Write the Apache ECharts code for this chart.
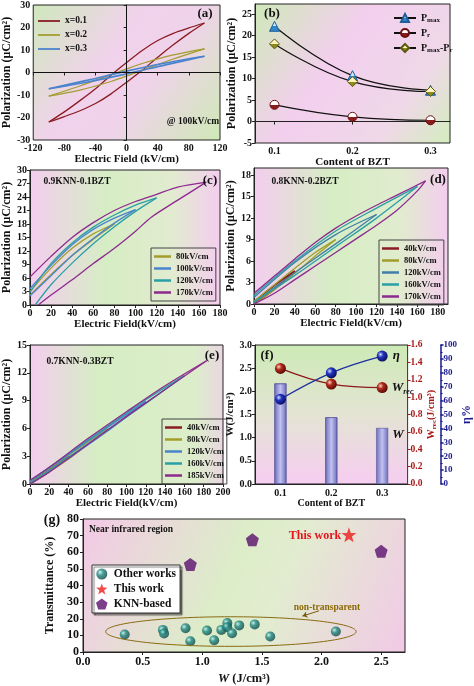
<!DOCTYPE html>
<html lang="en">
<head>
    <meta charset="UTF-8">
    <title>KNN-BZT</title>
    <script src="https://cdn.jsdelivr.net/npm/echarts@6/dist/echarts.min.js"></script>
</head>
<style>
    * { margin: 0; padding: 0; }
    html, body { width: 100%; height: 100%; overflow: hidden; background: #fff; }
    .container { width: 474px; height: 686px; }
</style>
<body>
    <div class="container"></div>
</body>
<script>
    // (a) P-E loops at 100 kV/cm, [E, P], descending then ascending branch
    const a01Down = [[100,22],[80,19.8],[60,17.4],[40,14.2],[20,9.8],[0,4.4],[-20,-1.2],[-40,-7.2],[-60,-12.5],[-80,-17.5],[-100,-22]];
    const a01Up = [[-100,-22],[-80,-19.6],[-60,-17],[-40,-13.8],[-20,-9.5],[0,-4.3],[20,1],[40,6.8],[60,12.3],[80,17.4],[100,22]];
    const a02Down = [[100,10.5],[60,7.8],[20,4],[0,1.6],[-20,-1],[-60,-6],[-100,-10.5]];
    const a02Up = [[-100,-10.5],[-60,-7.8],[-20,-4],[0,-1.6],[20,1],[60,6],[100,10.5]];
    const a03Down = [[100,7.2],[50,4.2],[0,0.6],[-50,-3.4],[-100,-7.2]];
    const a03Up = [[-100,-7.2],[-50,-4.2],[0,-0.6],[50,3.4],[100,7.2]];

    // (b) polarization vs BZT content
    const bztContent = [0.1, 0.2, 0.3];
    const pMax = [22.2, 10.7, 7.3];
    const pR = [3.9, 1.1, 0.3];
    const pMaxMinusPr = [18.1, 9.3, 7.0];

    // (c) 0.9KNN-0.1BZT unipolar loops
    const c80Down = [[80,18],[60,15.8],[40,12.6],[20,8.2],[0,3]];
    const c80Up = [[0,2.2],[20,6.8],[40,11],[60,14.6],[80,18]];
    const c100Down = [[100,21.2],[80,19.3],[60,16.8],[40,13.4],[20,8.8],[0,3.6]];
    const c100Up = [[0,2],[20,6.5],[40,11],[60,14.8],[80,18.2],[100,21.2]];
    const c120Down = [[120,23.8],[100,22.2],[80,20],[60,17.3],[40,13.8],[20,9.2],[0,2.8]];
    const c120Up = [[5,0],[20,4.5],[40,9.3],[60,13.6],[80,17.4],[100,20.8],[120,23.8]];
    const c170Down = [[167,27.3],[140,26.2],[120,24.6],[100,23],[80,21],[60,18.3],[40,15],[20,10.8],[0,6.2]];
    const c170Up = [[8,0],[20,2.2],[40,5.6],[60,9.2],[80,12.6],[100,16.4],[115,19.5],[140,23.3],[167,27.3]];

    // (d) 0.8KNN-0.2BZT
    const d40Down = [[40,4.6],[20,2.6],[0,0.3]];
    const d40Up = [[0,0],[20,2.1],[40,4.6]];
    const d80Down = [[80,9],[60,7.2],[40,5],[20,2.7],[0,0.4]];
    const d80Up = [[0,0],[20,2],[40,4.3],[60,6.7],[80,9]];
    const d120Down = [[120,12.5],[80,9.7],[40,5.8],[0,0.9]];
    const d120Up = [[0,0.2],[40,4.4],[80,8.4],[120,12.5]];
    const d160Down = [[160,16.4],[120,13.4],[80,10.2],[40,6],[0,1.2]];
    const d160Up = [[0,0.3],[40,4],[80,8],[120,12],[160,16.4]];
    const d170Down = [[168,17.2],[140,15.2],[120,13.8],[100,12.3],[80,10.6],[60,8.6],[40,6.3],[20,3.9],[0,1.5]];
    const d170Up = [[0,0],[20,1.5],[40,3.4],[60,5.3],[80,7.2],[100,9.1],[120,11],[140,13.1],[160,15.8],[168,17.2]];

    // (e) 0.7KNN-0.3BZT
    const e40Down = [[40,3],[20,1.6],[0,0.1]];
    const e40Up = [[0,0],[20,1.3],[40,3]];
    const e80Down = [[80,6],[40,3.1],[0,0.2]];
    const e80Up = [[0,0],[40,2.7],[80,6]];
    const e120Down = [[120,8.9],[80,6.1],[40,3.2],[0,0.3]];
    const e120Up = [[0,0],[40,2.8],[80,5.7],[120,8.9]];
    const e160Down = [[160,11.7],[120,9.1],[80,6.2],[40,3.3],[0,0.3]];
    const e160Up = [[0,0],[40,2.9],[80,5.8],[120,8.7],[160,11.7]];
    const e185Down = [[183,13.3],[140,10.6],[100,7.8],[60,4.9],[20,1.8],[0,0.4]];
    const e185Up = [[0,0],[20,1.3],[60,4.3],[100,7.3],[140,10.2],[183,13.3]];

    // (f) energy storage
    const bztLabels = ['0.1', '0.2', '0.3'];
    const wTotal = [2.17, 1.44, 1.21];
    const wRec = [1.33, 1.15, 1.11];
    const eta = [61, 80, 92];

    // (g) transmittance vs W
    const otherWorks = [[0.35,10.5],[0.67,13.3],[0.68,11.1],[0.86,14.3],[0.9,6.5],[1.04,12.9],[1.1,7.1],[1.16,13.3],[1.21,17.4],[1.21,14.9],[1.25,11.3],[1.31,16],[1.44,16.6],[1.57,9.3],[2.12,12.3]];
    const thisWork = [[2.23,70.5]];
    const knnBased = [[0.9,52.7],[1.42,67.5],[2.5,60.6]];
    const ellipseC = [1.24, 12.3], ellipseR = [1.05, 8.9];

    const FONT = 'Liberation Serif';
    const pink = '#f4cdef', green = '#d6edc4';
    let container = document.querySelector('.container');
    let chart = echarts.init(container);

    function lin(x2, y2, stops) {
        return {type: 'linear', x: 0, y: 0, x2, y2, colorStops: stops.map(s => ({offset: s[0], color: s[1]}))};
    }
    function grid(left, top, width, height, bg) {
        return {left, top, width, height, show: true, backgroundColor: bg, borderColor: '#222', borderWidth: 1};
    }
    function vAxis(gi, min, max, interval, o) {
        return Object.assign({
            type: 'value', gridIndex: gi, min, max, interval,
            axisLine: {show: true, lineStyle: {color: '#222'}},
            axisTick: {show: true, length: 3, lineStyle: {color: '#222'}},
            axisLabel: {fontSize: 10, color: '#111', fontWeight: 'bold', fontFamily: FONT, margin: 3},
            splitLine: {show: false},
            nameLocation: 'middle',
            nameTextStyle: {fontSize: 11, color: '#111', fontWeight: 'bold', fontFamily: FONT}
        }, o || {});
    }
    function loop(name, color, down, up, idx, w) {
        return [down, up].map(d => ({
            name, type: 'line', xAxisIndex: idx, yAxisIndex: idx, data: d, smooth: 0.3,
            symbol: 'none', lineStyle: {color, width: w || 1.3}, itemStyle: {color}
        }));
    }
    function twoTone(top, bottom) {
        return lin(0, 1, [[0, top], [0.5, top], [0.5, bottom], [1, bottom]]);
    }
    function sphere(light, mid, dark) {
        return {type: 'radial', x: 0.35, y: 0.35, r: 0.75, colorStops: [
            {offset: 0, color: light}, {offset: 0.35, color: mid}, {offset: 1, color: dark}]};
    }
    function boxLegend(names, left, top) {
        return {
            data: names, orient: 'vertical', left, top, itemGap: 3, itemWidth: 17, itemHeight: 2.5, icon: 'rect',
            padding: [4, 3], borderColor: '#444', borderWidth: 1,
            formatter: n => n.split(':')[1],
            textStyle: {fontSize: 8.5, fontWeight: 'bold', fontFamily: FONT, color: '#111', lineHeight: 8}
        };
    }

    const red = '#8b1c24', olive = '#a39d2e', blue = '#4a84cc', teal = '#2a9fa5', purple = '#8d2a8f', steel = '#3f7fa8';
    const polName = 'Polarization (μC/cm²)';
    const fieldName = 'Electric Field(kV/cm)';

    let series = [].concat(
        loop('x=0.1', red, a01Down, a01Up, 0),
        loop('x=0.2', olive, a02Down, a02Up, 0),
        loop('x=0.3', blue, a03Down, a03Up, 0, 1.6),
        loop('c:80kV/cm', olive, c80Down, c80Up, 2),
        loop('c:100kV/cm', blue, c100Down, c100Up, 2),
        loop('c:120kV/cm', teal, c120Down, c120Up, 2),
        loop('c:170kV/cm', purple, c170Down, c170Up, 2),
        loop('d:40kV/cm', red, d40Down, d40Up, 3, 1.8),
        loop('d:80kV/cm', olive, d80Down, d80Up, 3),
        loop('d:120kV/cm', steel, d120Down, d120Up, 3),
        loop('d:160kV/cm', teal, d160Down, d160Up, 3),
        loop('d:170kV/cm', purple, d170Down, d170Up, 3),
        loop('e:40kV/cm', red, e40Down, e40Up, 4),
        loop('e:80kV/cm', olive, e80Down, e80Up, 4),
        loop('e:120kV/cm', blue, e120Down, e120Up, 4, 1.6),
        loop('e:160kV/cm', teal, e160Down, e160Up, 4),
        loop('e:185kV/cm', purple, e185Down, e185Up, 4)
    );
    // zero lines for (a)
    series[0].markLine = {silent: true, symbol: 'none', label: {show: false},
        lineStyle: {color: '#111', width: 1, type: 'solid'}, data: [{xAxis: 0}, {yAxis: 0}]};

    // (b)
    const bSeries = [
        ['Pmax', pMax, 'triangle', twoTone('#cfe6fb', '#2f86c8'), '#1d5f96', 10],
        ['Pr', pR, 'circle', twoTone('#fff', '#8b1c1c'), '#6b1010', 9],
        ['Pmax-Pr', pMaxMinusPr, 'diamond', twoTone('#fbf4c0', '#8f8a1c'), '#5d5a10', 10]
    ].map(s => ({
        name: s[0], type: 'line', xAxisIndex: 1, yAxisIndex: 1, smooth: 0.45,
        data: bztContent.map((x, i) => [x, s[1][i]]),
        symbol: s[2], symbolSize: s[5], lineStyle: {color: '#111', width: 1.2},
        itemStyle: {color: s[3], borderColor: s[4], borderWidth: 1}
    }));
    series = series.concat(bSeries);

    // (f)
    series.push({
        name: 'W', type: 'bar', xAxisIndex: 5, yAxisIndex: 5, barWidth: 12,
        data: wTotal.map((v, i) => i === 2 ? {value: v, label: {show: true, position: [16, 0],
            formatter: 'W', fontSize: 13, fontStyle: 'italic', fontWeight: 'bold', fontFamily: FONT, color: '#111'}} : v),
        itemStyle: {color: lin(1, 0, [[0, '#6d6dba'], [0.5, '#c2c2f2'], [1, '#6d6dba']]), borderColor: '#55559a', borderWidth: 0.6}
    });
    series.push({
        name: 'Wrec', type: 'line', xAxisIndex: 5, yAxisIndex: 6, smooth: 0.4,
        data: wRec.map((v, i) => i === 2 ? {value: v, label: {show: true, position: 'right', distance: 4,
            formatter: '{w|W}{s|rec}', rich: {w: {fontSize: 13, fontStyle: 'italic', fontWeight: 'bold', fontFamily: FONT, color: '#111'},
            s: {fontSize: 8, fontStyle: 'italic', fontWeight: 'bold', fontFamily: FONT, color: '#111', padding: [8, 0, 0, 0]}}}} : v),
        symbol: 'circle', symbolSize: 11, lineStyle: {color: '#8b1a1a', width: 1.3},
        itemStyle: {color: sphere('#ffd0c0', '#b02a1a', '#4a0505')}
    });
    series.push({
        name: 'eta', type: 'line', xAxisIndex: 5, yAxisIndex: 7, smooth: 0.4,
        data: eta.map((v, i) => i === 2 ? {value: v, label: {show: true, position: 'right', distance: 5,
            formatter: 'η', fontSize: 13, fontStyle: 'italic', fontWeight: 'bold', fontFamily: FONT, color: '#111'}} : v),
        symbol: 'circle', symbolSize: 11, lineStyle: {color: '#1d2fa0', width: 1.3},
        itemStyle: {color: sphere('#d0dcff', '#2233c0', '#06084a')}
    });

    // (g)
    series.push({
        name: 'Other works', type: 'scatter', xAxisIndex: 6, yAxisIndex: 8, data: otherWorks,
        symbol: 'circle', symbolSize: 10, itemStyle: {color: sphere('#c8f0ea', '#1f8a85', '#0a3a38')},
        markLine: {silent: true, symbol: ['none', 'arrow'], symbolSize: 5, label: {show: false},
            lineStyle: {color: '#7a5a10', width: 1, type: 'solid'},
            data: [[{coord: [1.98, 24.8]}, {coord: [1.84, 21.6]}]]}
    });
    series.push({
        name: 'This work', type: 'scatter', xAxisIndex: 6, yAxisIndex: 8, data: thisWork,
        symbol: 'path://M0,-10 L2.35,-3.24 L9.51,-3.09 L3.8,1.24 L5.88,8.09 L0,4 L-5.88,8.09 L-3.8,1.24 L-9.51,-3.09 L-2.35,-3.24 Z',
        symbolSize: 15, itemStyle: {color: '#ee1c1c'}
    });
    series.push({
        name: 'KNN-based', type: 'scatter', xAxisIndex: 6, yAxisIndex: 8, data: knnBased,
        symbol: 'path://M0,-10 L9.51,-3.09 L5.88,8.09 L-5.88,8.09 L-9.51,-3.09 Z',
        symbolSize: 13, itemStyle: {color: '#5a0f6e'}
    });

    let option = {
        animation: false,
        textStyle: {fontFamily: FONT, fontWeight: 'bold'},
        grid: [
            grid(27, 5, 193, 135, lin(1, 1, [[0, '#cfe8bc'], [0.4, '#f1d2ec'], [0.6, '#efd3ea'], [1, '#cfe9b6']])),
            grid(255, 4, 195, 139, lin(1, 1, [[0, '#cfe9b9'], [0.4, '#f3cfee'], [0.75, '#efd8e8'], [1, '#d3edbd']])),
            grid(27, 170, 193, 135, lin(1, 0, [[0, pink], [0.4, green], [0.75, '#e2ebd0'], [1, pink]])),
            grid(254, 168, 194, 136, lin(1, 0, [[0, pink], [0.4, green], [0.75, '#e0ecce'], [1, pink]])),
            grid(30, 345, 193, 139, lin(1, 0, [[0, pink], [0.35, green], [0.85, '#dcedca'], [1, '#ead7e2']])),
            grid(255, 345, 164, 139, lin(0, 1, [[0, '#cdeab5'], [0.5, '#e4e4d4'], [1, '#f6cdf1']])),
            grid(83, 519, 322, 135, lin(1, 1, [[0, '#f3c9e6'], [0.45, '#dcedc8'], [0.6, '#e2ecd0'], [1, '#f2c9e6']]))
        ],
        xAxis: [
            vAxis(0, -120, 120, 40, {name: 'Electric Field (kV/cm)', nameGap: 12}),
            vAxis(1, 0.075, 0.325, 0.1, {name: 'Content of BZT', nameGap: 11,
                axisLabel: {customValues: bztContent, fontSize: 10, color: '#111', fontWeight: 'bold', fontFamily: FONT, margin: 3},
                axisTick: {customValues: bztContent, length: 3}}),
            vAxis(2, 0, 180, 20, {name: fieldName, nameGap: 12}),
            vAxis(3, 0, 190, 20, {name: fieldName, nameGap: 12,
                axisLabel: {customValues: [0,20,40,60,80,100,120,140,160,180], fontSize: 10, color: '#111', fontWeight: 'bold', fontFamily: FONT, margin: 3},
                axisTick: {customValues: [0,20,40,60,80,100,120,140,160,180], length: 3}}),
            vAxis(4, 0, 200, 20, {name: fieldName, nameGap: 12}),
            {type: 'category', gridIndex: 5, data: bztLabels, name: 'Content of BZT', nameLocation: 'middle', nameGap: 14,
                nameTextStyle: {fontSize: 10, color: '#111', fontWeight: 'bold', fontFamily: FONT},
                axisLine: {lineStyle: {color: '#222'}}, axisTick: {show: false},
                axisLabel: {fontSize: 10, color: '#111', fontWeight: 'bold', fontFamily: FONT, margin: 4}},
            vAxis(6, 0, 2.7, 0.5, {name: '{i|W} (J/cm³)', nameGap: 20,
                nameTextStyle: {fontSize: 12.5, color: '#111', fontWeight: 'bold', fontFamily: FONT, rich: {i: {fontStyle: 'italic', fontSize: 12.5, fontWeight: 'bold', fontFamily: FONT}}},
                axisLabel: {customValues: [0, 0.5, 1, 1.5, 2, 2.5], formatter: v => v.toFixed(1), fontSize: 12, color: '#111', fontWeight: 'bold', fontFamily: FONT, margin: 4},
                axisTick: {customValues: [0, 0.5, 1, 1.5, 2, 2.5], length: 3}})
        ],
        yAxis: [
            vAxis(0, -30, 30, 10, {name: polName, nameGap: 13, nameTextStyle: {fontSize: 12, color: '#111', fontWeight: 'bold', fontFamily: FONT}}),
            vAxis(1, -5, 27.4, 5, {name: polName, nameGap: 12, nameTextStyle: {fontSize: 12, color: '#111', fontWeight: 'bold', fontFamily: FONT},
                axisLabel: {customValues: [-5,0,5,10,15,20,25], fontSize: 10, color: '#111', fontWeight: 'bold', fontFamily: FONT, margin: 3},
                axisTick: {customValues: [-5,0,5,10,15,20,25], length: 3}}),
            vAxis(2, 0, 30, 3, {name: polName, nameGap: 13, nameTextStyle: {fontSize: 12, color: '#111', fontWeight: 'bold', fontFamily: FONT}}),
            vAxis(3, 0, 19, 3, {name: polName, nameGap: 12, nameTextStyle: {fontSize: 12, color: '#111', fontWeight: 'bold', fontFamily: FONT},
                axisLabel: {customValues: [0,3,6,9,12,15,18], fontSize: 10, color: '#111', fontWeight: 'bold', fontFamily: FONT, margin: 3},
                axisTick: {customValues: [0,3,6,9,12,15,18], length: 3}}),
            vAxis(4, 0, 15, 3, {name: polName, nameGap: 13, nameTextStyle: {fontSize: 12, color: '#111', fontWeight: 'bold', fontFamily: FONT}}),
            vAxis(5, 0, 3, 0.5, {name: 'W(J/cm³)', nameGap: 19,
                axisLabel: {formatter: v => v.toFixed(1), fontSize: 10, color: '#111', fontWeight: 'bold', fontFamily: FONT, margin: 3}}),
            vAxis(5, 0, 1.6, 0.2, {position: 'right', name: '{w|W}{s|rec}{n|(J/cm³)}', nameGap: 17,
                axisLine: {show: true, lineStyle: {color: '#a81818'}},
                axisTick: {show: true, length: 3, lineStyle: {color: '#a81818'}},
                axisLabel: {formatter: v => v.toFixed(1), fontSize: 9.5, color: '#a81818', fontWeight: 'bold', fontFamily: FONT, margin: 3},
                nameTextStyle: {color: '#a81818', fontFamily: FONT, fontWeight: 'bold', rich: {
                    w: {fontSize: 10, color: '#a81818', fontFamily: FONT, fontWeight: 'bold'},
                    s: {fontSize: 7, color: '#a81818', fontFamily: FONT, fontWeight: 'bold', padding: [5, 0, 0, 0]},
                    n: {fontSize: 10, color: '#a81818', fontFamily: FONT, fontWeight: 'bold'}}}}),
            vAxis(5, 0, 100, 10, {position: 'right', offset: 33, name: 'η%', nameGap: 16,
                axisLine: {show: true, lineStyle: {color: '#1a1a90', width: 1.5}},
                axisTick: {show: true, length: 3, lineStyle: {color: '#1a1a90', width: 1.5}},
                minorTick: {show: true, splitNumber: 2, length: 2, lineStyle: {color: '#1a1a90'}},
                axisLabel: {fontSize: 9, color: '#1a1a90', fontWeight: 'bold', fontFamily: FONT, margin: 3},
                nameTextStyle: {fontSize: 12, color: '#1a1a90', fontWeight: 'bold', fontFamily: FONT}}),
            vAxis(6, 0, 80, 10, {name: 'Transmittance (%)', nameGap: 21,
                nameTextStyle: {fontSize: 12, color: '#111', fontWeight: 'bold', fontFamily: FONT},
                axisLabel: {fontSize: 12, color: '#111', fontWeight: 'bold', fontFamily: FONT, margin: 4}})
        ],
        legend: [
            {data: ['x=0.1', 'x=0.2', 'x=0.3'], orient: 'vertical', left: 33, top: 11, itemGap: 4, itemWidth: 22, itemHeight: 1.8,
                icon: 'rect', textStyle: {fontSize: 9.5, fontWeight: 'bold', fontFamily: FONT, color: '#111', lineHeight: 8}},
            {data: ['Pmax', 'Pr', 'Pmax-Pr'], orient: 'vertical', left: 388, top: 8, itemGap: 4, itemWidth: 22, itemHeight: 10,
                formatter: n => ({'Pmax': 'P{s|max}', 'Pr': 'P{s|r}', 'Pmax-Pr': 'P{s|max}-P{s|r}'})[n],
                textStyle: {fontSize: 10, fontWeight: 'bold', fontFamily: FONT, color: '#111',
                    rich: {s: {fontSize: 7, fontWeight: 'bold', fontFamily: FONT, color: '#111', padding: [5, 0, 0, 0]}}}},
            boxLegend(['c:80kV/cm', 'c:100kV/cm', 'c:120kV/cm', 'c:170kV/cm'], 151, 248),
            boxLegend(['d:40kV/cm', 'd:80kV/cm', 'd:120kV/cm', 'd:160kV/cm', 'd:170kV/cm'], 379, 240),
            boxLegend(['e:40kV/cm', 'e:80kV/cm', 'e:120kV/cm', 'e:160kV/cm', 'e:185kV/cm'], 162, 419),
            {data: ['Other works', 'This work', 'KNN-based'], orient: 'vertical', left: 92, top: 565, itemGap: 3,
                itemWidth: 14, itemHeight: 11, padding: [3, 4], backgroundColor: '#fff', borderColor: '#333', borderWidth: 1,
                shadowColor: 'rgba(0,0,0,0.5)', shadowOffsetX: 2, shadowOffsetY: 2, shadowBlur: 1,
                textStyle: {fontSize: 11.5, fontWeight: 'bold', fontFamily: FONT, color: '#111'}}
        ],
        series
    };
    chart.setOption(option);

    // panel letters and notes, plus the ellipse around the non-transparent group
    function txt(text, x, y, size, extra) {
        return {type: 'text', x, y, z: 100, style: Object.assign({text, font: 'bold ' + size + 'px ' + FONT, fill: '#111',
            align: 'center', verticalAlign: 'middle'}, extra || {})};
    }
    let c0 = chart.convertToPixel({gridIndex: 6}, ellipseC);
    let c1 = chart.convertToPixel({gridIndex: 6}, [ellipseC[0] + ellipseR[0], ellipseC[1] + ellipseR[1]]);
    chart.setOption({
        graphic: [
            txt('(a)', 205, 14, 13), txt('(b)', 272, 14, 13), txt('(c)', 210, 181, 13), txt('(d)', 438, 180, 13),
            txt('(e)', 212, 356, 13), txt('(f)', 267, 356, 13), txt('(g)', 52, 520, 14),
            txt('@ 100kV/cm', 193, 122, 9.5),
            txt('0.9KNN-0.1BZT', 77, 182, 9.5), txt('0.8KNN-0.2BZT', 305, 182, 9.5), txt('0.7KNN-0.3BZT', 80, 362, 9.5),
            txt('Near infrared region', 131, 530, 9.5),
            txt('This work', 315, 536, 12, {fill: '#e8141c'}),
            txt('non-transparent', 327, 608, 9.5, {fill: '#8a6a08'}),
            {type: 'ellipse', z: 100, shape: {cx: c0[0], cy: c0[1], rx: c1[0] - c0[0], ry: c0[1] - c1[1]},
                style: {fill: 'none', stroke: '#8a6a10', lineWidth: 1}}
        ]
    });
</script>
</html>
